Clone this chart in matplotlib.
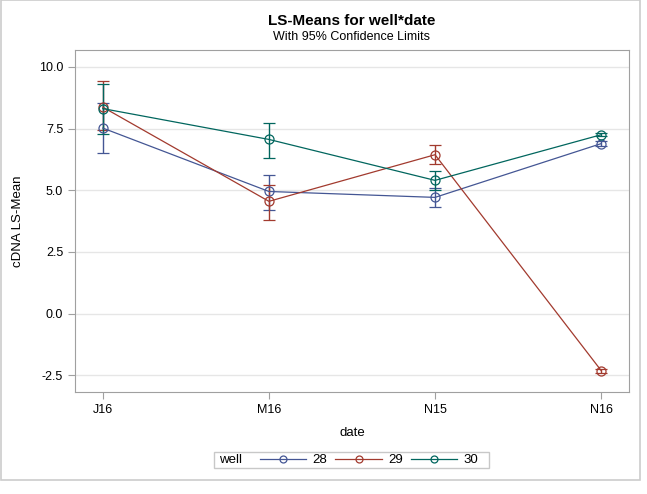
import matplotlib.pyplot as plt
from matplotlib.lines import Line2D
from matplotlib.patches import Rectangle

plt.rcParams["font.family"] = ["Liberation Sans", "DejaVu Sans"]

dates = ["J16", "M16", "N15", "N16"]
wells = ["28", "29", "30"]

# LS-means and 95% confidence limits
means = {
    "28": [7.52, 4.95, 4.71, 6.89],
    "29": [8.37, 4.55, 6.44, -2.31],
    "30": [8.31, 7.06, 5.40, 7.25],
}
lower = {
    "28": [6.52, 4.21, 4.34, 6.80],
    "29": [7.43, 3.80, 6.05, -2.39],
    "30": [7.29, 6.32, 5.02, 7.18],
}
upper = {
    "28": [8.54, 5.63, 5.10, 6.98],
    "29": [9.43, 5.22, 6.83, -2.23],
    "30": [9.32, 7.72, 5.78, 7.32],
}
colors = {"28": "#445694", "29": "#A23A2E", "30": "#01665E"}

W, H = 647, 494
fig = plt.figure(figsize=(W / 100, H / 100), dpi=100)
# graph border (the chart itself is 640x480 inside the canvas)
fig.patches.append(Rectangle((0.5 / W, 1 - 479.5 / H), 639 / W, 479 / H,
                             transform=fig.transFigure, fill=False,
                             edgecolor="#CCCCCC", lw=1.2))
ax = fig.add_axes([0.116, 0.206, 0.856, 0.693])

x = list(range(len(dates)))
handles = []
for w in wells:
    m = means[w]
    yerr = [[mi - lo for mi, lo in zip(m, lower[w])],
            [hi - mi for mi, hi in zip(m, upper[w])]]
    ax.errorbar(x, m, yerr=yerr, color=colors[w], lw=0.9, elinewidth=1.0,
                capsize=4.5, capthick=1.0, marker="o", markersize=6.5,
                markerfacecolor="none", markeredgewidth=0.9, zorder=3)
    handles.append(Line2D([], [], color=colors[w], lw=0.9, marker="o",
                          markersize=5, markerfacecolor="none",
                          markeredgewidth=0.9))

ax.set_xlim(-0.167, 3.167)
ax.set_ylim(-3.19, 10.69)
ax.set_xticks(x)
ax.set_xticklabels(dates)
ax.set_yticks([-2.5, 0.0, 2.5, 5.0, 7.5, 10.0])
ax.set_yticklabels(["-2.5", "0.0", "2.5", "5.0", "7.5", "10.0"])
ax.grid(axis="y", color="#E6E6E6", lw=1.0)
ax.set_axisbelow(True)
for s in ax.spines.values():
    s.set_color("#A0A0A0")
ax.tick_params(colors="#A0A0A0", labelcolor="black", labelsize=9, length=5)
ax.set_xlabel("date", fontsize=9.5, labelpad=8)
ax.set_ylabel("cDNA LS-Mean", fontsize=9.5, labelpad=11)

fig.text(0.543, 0.958, "LS-Means for well*date", ha="center", va="center",
         fontsize=11, fontweight="bold")
fig.text(0.543, 0.925, "With 95% Confidence Limits", ha="center",
         va="center", fontsize=9)

# legend: inline "well" label, three entries, light grey frame
fs = 9.5
leg = fig.legend(handles, wells, ncol=3, loc="center left",
                 bbox_to_anchor=(260 / W, 1 - 460 / H), frameon=False,
                 fontsize=fs, handlelength=3.5, handletextpad=0.5,
                 columnspacing=0.6, borderpad=0, borderaxespad=0)
fig.text(219 / W, 1 - 460 / H, "well", ha="left", va="center", fontsize=fs)
fig.patches.append(Rectangle((214 / W, 1 - 468 / H), 275 / W, 16 / H,
                             transform=fig.transFigure, fill=False,
                             edgecolor="#C8C8C8", lw=1.0))

fig.savefig("out.png", dpi=100)
